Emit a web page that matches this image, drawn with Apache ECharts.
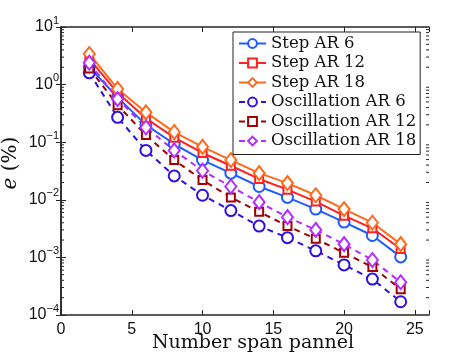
<!DOCTYPE html>
<html>
<head>
<meta charset="utf-8">
<script src="https://cdn.jsdelivr.net/npm/echarts@6/dist/echarts.min.js"></script>
<style>html,body{margin:0;padding:0;background:#fff}#c{width:474px;height:356px}</style>
</head>
<body>
<div id="c"></div>
<script>
var spans = [2, 4, 6, 8, 10, 12, 14, 16, 18, 20, 22, 24];
var stepAR6  = [2.0, 0.60, 0.20, 0.093, 0.049, 0.029, 0.017, 0.011, 0.0069, 0.0041, 0.0024, 0.00102];
var stepAR12 = [2.8, 0.72, 0.26, 0.12, 0.065, 0.039, 0.023, 0.0150, 0.0093, 0.0053, 0.0032, 0.0014];
var stepAR18 = [3.4, 0.84, 0.33, 0.15, 0.083, 0.049, 0.029, 0.0195, 0.012, 0.0069, 0.0040, 0.0017];
var oscAR6   = [1.6, 0.27, 0.072, 0.026, 0.012, 0.0065, 0.0035, 0.0022, 0.0013, 0.00074, 0.00042, 0.00017];
var oscAR12  = [1.9, 0.44, 0.133, 0.049, 0.022, 0.011, 0.0062, 0.0035, 0.0021, 0.0012, 0.00068, 0.00028];
var oscAR18  = [2.4, 0.56, 0.18, 0.072, 0.032, 0.017, 0.0091, 0.0050, 0.0030, 0.0017, 0.0009, 0.00037];
var seriesNames = ['Step AR 6', 'Step AR 12', 'Step AR 18', 'Oscillation AR 6', 'Oscillation AR 12', 'Oscillation AR 18'];
var minorTickValues = [
  2e-4,3e-4,4e-4,5e-4,6e-4,7e-4,8e-4,9e-4,
  2e-3,3e-3,4e-3,5e-3,6e-3,7e-3,8e-3,9e-3,
  2e-2,3e-2,4e-2,5e-2,6e-2,7e-2,8e-2,9e-2,
  0.2,0.3,0.4,0.5,0.6,0.7,0.8,0.9,
  2,3,4,5,6,7,8,9
];

function pairs(ys) { return spans.map(function (x, i) { return [x, ys[i]]; }); }

var serifFont = 'DejaVu Serif';
var sansFont = 'Liberation Sans';
var axisColor = '#262626';

function mkSeries(name, ys, color, symbol, size, dashed) {
  return {
    name: name, type: 'line', data: pairs(ys),
    symbol: symbol, symbolSize: size,
    lineStyle: { color: color, width: 2, type: dashed ? [6, 5] : 'solid' },
    itemStyle: { color: '#fff', borderColor: color, borderWidth: 2 },
    emphasis: { disabled: true }, animation: false, z: 3
  };
}

var chart = echarts.init(document.getElementById('c'), null, { renderer: 'canvas' });
var series = [
  mkSeries(seriesNames[0], stepAR6, '#1f5cff', 'circle', 11, false),
  mkSeries(seriesNames[1], stepAR12, '#ff1f1f', 'rect', 8, false),
  mkSeries(seriesNames[2], stepAR18, '#ff6a1a', 'diamond', [11, 14], false),
  mkSeries(seriesNames[3], oscAR6, '#3010e0', 'circle', 11, true),
  mkSeries(seriesNames[4], oscAR12, '#a00000', 'rect', 8, true),
  mkSeries(seriesNames[5], oscAR18, '#b42cff', 'diamond', [11, 14], true),
  {
    type: 'custom', silent: true, animation: false, z: 5,
    data: minorTickValues.map(function (v) { return [1, v]; }),
    renderItem: function (params, api) {
      var y = api.coord([0, api.value(1)])[1];
      var cs = params.coordSys;
      return {
        type: 'group',
        children: [
          { type: 'line', shape: { x1: cs.x, y1: y, x2: cs.x + 3, y2: y }, style: { stroke: axisColor, lineWidth: 1 } },
          { type: 'line', shape: { x1: cs.x + cs.width, y1: y, x2: cs.x + cs.width - 3, y2: y }, style: { stroke: axisColor, lineWidth: 1 } }
        ]
      };
    }
  }
];

chart.setOption({
  animation: false,
  backgroundColor: '#fff',
  grid: { left: 61, top: 27, right: 45, bottom: 41, containLabel: false, outerBoundsMode: 'none' },
  legend: {
    data: seriesNames,
    orient: 'vertical', left: 233, top: 32,
    backgroundColor: '#fff', borderColor: '#222', borderWidth: 1,
    padding: [3, 4, 5, 5], itemGap: 2.5, itemWidth: 27, itemHeight: 11,
    textStyle: { fontFamily: serifFont, fontSize: 16.5, color: '#111' },
    selectedMode: false
  },
  xAxis: [{
    type: 'value', min: 0, max: 26, interval: 5, position: 'bottom',
    name: 'Number span pannel', nameLocation: 'middle', nameGap: 19, nameMoveOverlap: false,
    nameTextStyle: { fontFamily: serifFont, fontSize: 19, color: '#111', padding: [0, 0, 0, 16] },
    axisLine: { lineStyle: { color: axisColor, width: 1.5 } },
    axisTick: { inside: true, length: 5, lineStyle: { color: axisColor } },
    axisLabel: { fontFamily: sansFont, fontSize: 16, color: '#111', margin: 7,
      formatter: function (v) { return v % 5 === 0 ? String(v) : ''; } },
    splitLine: { show: false }
  }, {
    type: 'value', min: 0, max: 26, interval: 5, position: 'top',
    axisLine: { lineStyle: { color: axisColor, width: 1.5 } },
    axisTick: { inside: true, length: 5, lineStyle: { color: axisColor } },
    axisLabel: { show: false }, splitLine: { show: false }
  }],
  yAxis: [{
    type: 'log', logBase: 10, min: 1e-4, max: 10, position: 'left',
    name: '{it|e} (%)', nameLocation: 'middle', nameGap: 40, nameRotate: 90, nameMoveOverlap: false,
    nameTextStyle: { fontFamily: serifFont, fontSize: 20, color: '#111', padding: [0, 0, 0, 16],
      rich: { it: { fontFamily: serifFont, fontStyle: 'italic', fontSize: 20, color: '#111' } } },
    axisLine: { show: true, lineStyle: { color: axisColor, width: 1.5 } },
    axisTick: { inside: true, length: 5, lineStyle: { color: axisColor } },
    axisLabel: {
      fontFamily: sansFont, fontSize: 16, color: '#111', margin: 2,
      formatter: function (v) {
        var e = Math.round(Math.log(v) / Math.LN10);
        return '{b|10}{sup|' + (e < 0 ? '\u2212' + (-e) : e) + '}';
      },
      rich: {
        b: { fontFamily: sansFont, fontSize: 16, color: '#111', lineHeight: 24, verticalAlign: 'middle' },
        sup: { fontFamily: sansFont, fontSize: 11, color: '#111', lineHeight: 11, verticalAlign: 'top' }
      }
    },
    splitLine: { show: false }
  }, {
    type: 'log', logBase: 10, min: 1e-4, max: 10, position: 'right',
    axisLine: { show: true, lineStyle: { color: axisColor, width: 1.5 } },
    axisTick: { inside: true, length: 5, lineStyle: { color: axisColor } },
    axisLabel: { show: false }, splitLine: { show: false }
  }],
  series: series
});
</script>
</body>
</html>
